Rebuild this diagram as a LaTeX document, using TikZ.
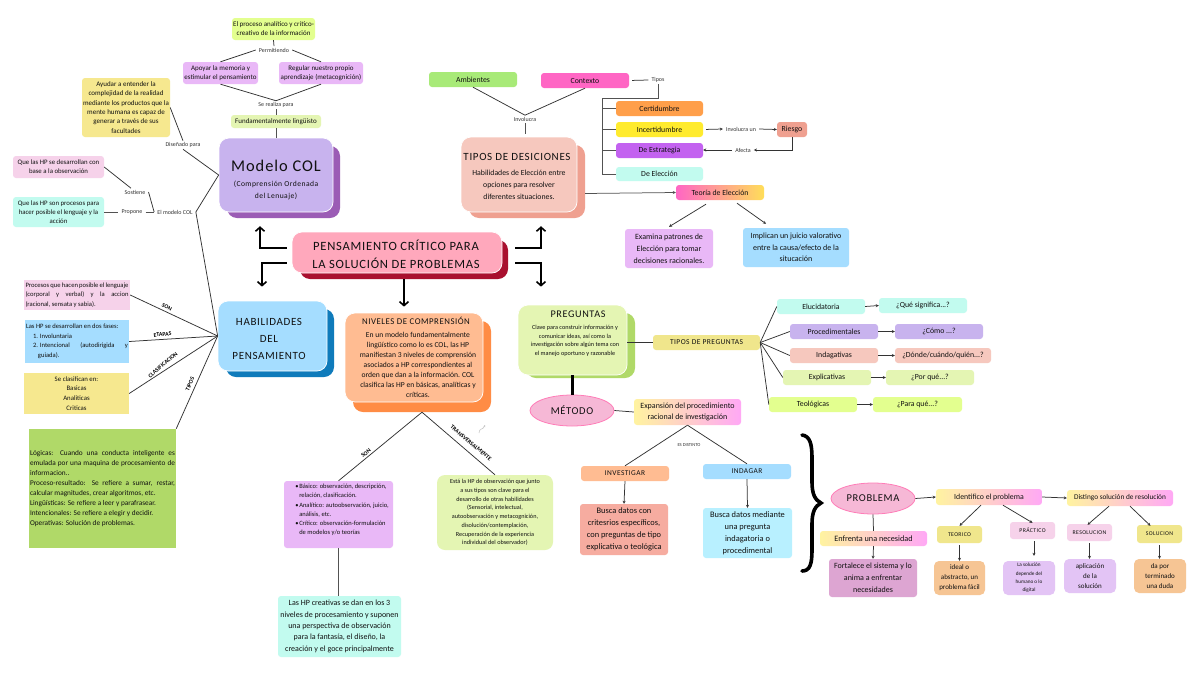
\documentclass[tikz,border=0pt]{standalone}
\usepackage{fontspec}
\setmainfont{Carlito}
\newfontfamily\spc[LetterSpace=6]{Carlito}
\usetikzlibrary{arrows.meta,shapes.geometric,calc}
\newcommand\fsz[2]{\fontsize{#1}{#2}\selectfont}
\definecolor{ink}{HTML}{111111}
\definecolor{lime}{HTML}{E3FF8F}
\definecolor{lilac}{HTML}{E9B8F7}
\definecolor{pale}{HTML}{E4F5B3}
\definecolor{butter}{HTML}{F6E88F}
\definecolor{khaki}{HTML}{F0E68C}
\definecolor{blush}{HTML}{F6D2EA}
\definecolor{mint}{HTML}{C2FBEF}
\definecolor{sky}{HTML}{A5DDFF}
\definecolor{grass}{HTML}{B0D968}
\definecolor{purp}{HTML}{C8B3EE}
\definecolor{purpd}{HTML}{9B5CB5}
\definecolor{skyd}{HTML}{0F7BBB}
\definecolor{peach}{HTML}{FFBC92}
\definecolor{peachd}{HTML}{FF8C45}
\definecolor{rose}{HTML}{F6C8BE}
\definecolor{rosed}{HTML}{EFA090}
\definecolor{pinkf}{HTML}{FFA8BC}
\definecolor{crim}{HTML}{A9102F}
\definecolor{gyel}{HTML}{FFF3A0}
\definecolor{gpin}{HTML}{FFA8F5}
\definecolor{elfill}{HTML}{F6B8D6}
\definecolor{eldraw}{HTML}{FF7DB8}
\definecolor{wire}{HTML}{333333}
\definecolor{ambc}{HTML}{A8EA78}
\definecolor{hotp}{HTML}{FF66C4}
\definecolor{orng}{HTML}{FF9F4A}
\definecolor{yelw}{HTML}{FFEB2E}
\definecolor{viol}{HTML}{C362F0}
\definecolor{gold}{HTML}{FFDE59}
\definecolor{salm}{HTML}{F6ACA0}
\definecolor{cyan1}{HTML}{B8F0FF}
\definecolor{orch}{HTML}{DDA5D2}
\definecolor{tan1}{HTML}{F6C594}
\definecolor{lav}{HTML}{E3C4F5}
\tikzset{
  boxn/.style={rectangle,rounded corners=3pt,inner sep=0pt,align=center,text=ink},
  sq/.style={rounded corners=0pt},
  gradn/.style={left color=gyel,right color=gpin},
  lab/.style={inner xsep=3pt,inner ysep=1.5pt,text=wire,font=\fsz{6}{7}},
  edgelab/.style={inner sep=0pt,text=black,font=\fsz{5.8}{6}\bfseries},
  wirel/.style={draw=wire,line width=0.75pt},
  wirea/.style={draw=wire,line width=0.75pt,-{Stealth[length=3pt,width=3pt]}},
  greyl/.style={draw=wire!85,line width=0.9pt},
  fat/.style={draw=black,line width=2.4pt,-{Straight Barb[length=4pt,width=9pt,line width=1.6pt]}},
  cardf/.style={boxn,rounded corners=10pt,draw=white,line width=0.7pt},
  cardb/.style={boxn,rounded corners=10pt},
  oval/.style={ellipse,draw=eldraw,fill=elfill,line width=0.8pt,inner sep=0pt,text=ink},
  ttl/.style={inner sep=0pt,text=ink,align=center},
}
% [options]{name}{x1}{y1}{x2}{y2}{look}{text}
\newcommand\bxn[8][]{\node[boxn,minimum width={(#5-#3)*1pt},minimum height={(#6-#4)*1pt},#7,#1] (#2) at ({(#3+#5)/2},{(#4+#6)/2}) {#8};}
% {name}{x1}{y1}{x2}{y2}{backx2}{backy2}{front}{back}
\newcommand\crd[9]{%
  \node[cardb,fill=#9,minimum width={(#6-#2-8)*1pt},minimum height={(#7-#3-8)*1pt}] (#1b) at ({(#2+8+#6)/2},{(#3+8+#7)/2}) {};
  \node[cardf,fill=#8,minimum width={(#4-#2)*1pt},minimum height={(#5-#3)*1pt}] (#1) at ({(#2+#4)/2},{(#3+#5)/2}) {};}
\begin{document}
\begin{tikzpicture}[x=1pt,y=-1pt]
\fill[white] (0,0) rectangle (1200,675);
\useasboundingbox (0,0) rectangle (1200,675);

% ---- cards
\crd{pens}{292}{232}{502}{273}{508}{279}{pinkf}{crim}
\node[ttl,font={\fsz{12.6}{18}\spc}] (penst) at (396,254) {PENSAMIENTO CRÍTICO PARA\\LA SOLUCIÓN DE PROBLEMAS};
\crd{modc}{219}{138}{333}{212}{340}{218}{purp}{purpd}
\node[ttl,font={\fsz{16.4}{20}\spc}] (modt) at (276,166) {Modelo COL};
\node[ttl,font={\fsz{7.6}{12}\spc}] (mods) at (276,190) {(Comprensión Ordenada\\del Lenuaje)};
\crd{habc}{218}{301}{327}{371}{334}{377}{sky}{skyd}
\node[ttl,font={\fsz{11}{17.3}\spc}] (habt) at (269,339) {HABILIDADES\\DEL\\PENSAMIENTO};
\crd{nivc}{345}{313}{483}{402}{491}{412}{peach}{peachd}
\node[ttl,font={\fsz{8.8}{10}\spc}] (nivt) at (416,321) {NIVELES DE COMPRENSIÓN};
\node[ttl,font={\fsz{7.6}{10}}] (nivs) at (418,365) {En un modelo fundamentalmente\\lingüístico como lo es COL, las HP\\manifiestan 3 niveles de comprensión\\asociados a HP correspondientes al\\orden que dan a la información. COL\\clasifica las HP en básicas, analíticas y\\críticas.};
\crd{tipc}{461}{137}{577}{212}{585}{218}{rose}{rosed}
\node[ttl,font={\fsz{11}{12}\spc}] (tipt) at (517,157) {TIPOS DE DESICIONES};
\node[ttl,font={\fsz{7.8}{11.7}}] (tips) at (519,185) {Habilidades de Elección entre\\opciones para resolver\\diferentes situaciones.};
\crd{prec}{518}{305}{627}{375}{635}{378}{pale}{grass}
\node[ttl,font={\fsz{10.2}{11}\spc}] (pret) at (578,314) {PREGUNTAS};
\node[ttl,font={\fsz{6.2}{8.7}}] (pres) at (575,341) {Clave para construir información y\\comunicar ideas, así como la\\investigación sobre algún tema con\\el manejo oportuno y razonable};

% ---- upper left
\bxn[font={\fsz{7}{9}}]{proc}{232}{18}{315}{40}{fill=lime}{El proceso analítico y crítico-\\creativo de la información}
\node[lab] (perm) at (274,50) {Permitiendo};
\bxn[font={\fsz{7}{9.3}}]{apo}{183}{62}{258}{84}{fill=lilac}{Apoyar la memoria y\\estimular el pensamiento}
\bxn[font={\fsz{7}{9.3}}]{reg}{279}{62}{363}{84}{fill=lilac}{Regular nuestro propio\\aprendizaje (metacognición)}
\node[lab] (srp) at (276,105) {Se realiza para};
\bxn[font={\fsz{7}{9}}]{fund}{231}{115}{321}{128}{fill=pale}{Fundamentalmente lingüisto}
\bxn[font={\fsz{7}{9.3}}]{ayu}{82}{78}{170}{137}{fill=butter}{Ayudar a entender la\\complejidad de la realidad\\mediante los productos que la\\mente humana es capaz de\\generar a través de sus\\facultades}
\node[lab] (dis) at (183,145) {Diseñado para};
\bxn[font={\fsz{6.8}{9.3}}]{que}{13}{156}{104}{178}{fill=blush}{Que las HP se desarrollan con\\base a la observación}
\node[lab] (sos) at (135,192) {Sostiene};
\bxn[font={\fsz{6.8}{9.3}}]{qua}{13}{197}{104}{227}{fill=mint}{Que las HP son procesos para\\hacer posible el lenguaje y la\\acción}
\node[lab] (prp) at (132,212) {Propone};
\node[lab] (elm) at (175,212) {El modelo COL};

% ---- left column
\bxn[sq,font={\fsz{6.6}{9.3}},align=left]{cpr}{24}{280}{130}{310}{fill=blush}{\makebox[103pt][s]{Procesos que hacen posible el lenguaje}\\\makebox[103pt][s]{(corporal y verbal) y la accion}\\(racional, sensata y sabia).}
\bxn[sq,font={\fsz{6.6}{9.5}},align=left]{cla}{25}{320}{129}{363}{fill=sky}{Las HP se desarrollan en dos fases:\\\hspace*{7pt}1. Involuntaria\\\hspace*{7pt}2. \makebox[88pt][s]{Intencional (autodirigida y}\\\hspace*{12pt}guiada).}
\bxn[sq,font={\fsz{6.8}{9.7}}]{ccl}{24}{373}{129}{414}{fill=butter}{Se clasifican en:\\Basicas\\Analiticas\\Criticas}
\bxn[sq,font={\fsz{7.3}{10}},align=left]{clo}{29}{429}{176}{548}{fill=grass}{\makebox[145pt][s]{Lógicas: Cuando una conducta inteligente es}\\\makebox[145pt][s]{emulada por una maquina de procesamiento de}\\informacion..\\\makebox[145pt][s]{Proceso-resultado: Se refiere a sumar, restar,}\\calcular magnitudes, crear algoritmos, etc.\\Lingüísticas: Se refiere a leer y parafrasear.\\Intencionales: Se refiere a elegir y decidir.\\Operativas: Solución de problemas.}
\node[edgelab,rotate=-28] (lson) at (167,307) {SON};
\node[edgelab,rotate=5] (leta) at (162.5,334.5) {ETAPAS};
\node[edgelab,rotate=40] (lcla) at (163,365) {CLASIFICACION};
\node[edgelab,rotate=66] (ltip) at (190,384) {TIPOS};

% ---- niveles children
\bxn{bas}{284}{481}{393}{548}{fill=lilac}{}
\node[ttl,align=left,font={\fsz{6.5}{9.3}}] (bast) at (342,510) {\makebox[4pt][l]{•}Básico: observación, descripción,\\\hspace*{4pt}relación, clasificación.\\\makebox[4pt][l]{•}Analítico: autoobservación, juicio,\\\hspace*{4pt}análisis, etc.\\\makebox[4pt][l]{•}Crítico: observación-formulación\\\hspace*{4pt}de modelos y/o teorías};
\bxn[font={\fsz{8}{11.3}}]{cre}{278}{596}{401}{657}{fill=mint}{Las HP creativas se dan en los 3\\niveles de procesamiento y suponen\\una perspectiva de observación\\para la fantasía, el diseño, la\\creación y el goce principalmente}
\bxn[rounded corners=8pt,font={\fsz{6.2}{8.75}}]{est}{437}{475}{553}{550}{fill=pale}{Está la HP de observación que junto\\a sus tipos son clave para el\\desarrollo de otras habilidades\\(Sensorial, intelectual,\\autoobservación y metacognición,\\disolución/contemplación,\\Recuperación de la experiencia\\individual del observador)}
\node[edgelab,rotate=40] (nson) at (366,453) {SON};
\node[edgelab,rotate=-40] (ntra) at (471,443) {TRANSVERSALMENTE};
\draw[gray!45,line width=0.6pt,-{Stealth[length=2pt,width=2pt]}] (479,433) .. controls (479,428) and (483,430) .. (485,425);

% ---- decisions
\bxn[font={\fsz{7.8}{9}}]{amb}{429}{72}{517}{87}{fill=ambc}{Ambientes}
\bxn[font={\fsz{7.8}{9}}]{ctx}{541}{73}{629}{88}{fill=hotp}{Contexto}
\node[lab] (inv) at (525,119) {Involucra};
\node[lab] (tpl) at (658,80) {Tipos};
\coordinate (trunk) at (602,98);
\bxn[font={\fsz{7.8}{9}}]{cer}{616}{101}{703}{116}{fill=orng}{Certidumbre}
\bxn[font={\fsz{7.8}{9}}]{inc}{616}{122}{703}{137}{fill=yelw}{Incertidumbre}
\bxn[font={\fsz{7.8}{9}}]{esr}{616}{143}{703}{158}{fill=viol}{De Estrategia}
\bxn[font={\fsz{7.8}{9}}]{ele}{616}{167}{703}{181}{fill=mint}{De Elección}
\node[lab] (iun) at (741,129) {Involucra un};
\node[lab] (afe) at (743,150) {Afecta};
\bxn[font={\fsz{7.8}{9}},left color=hotp,right color=gold]{teo}{676}{185}{764}{200}{}{Teoría de Elección}
\bxn[font={\fsz{7.8}{9}}]{rie}{777}{122}{807}{137}{fill=rosed}{Riesgo}
\bxn[font={\fsz{8}{12}}]{exa}{625}{229}{713}{268}{fill=lilac}{Examina patrones de\\Elección para tomar\\decisiones racionales.}
\bxn[font={\fsz{8}{11.7}}]{imp}{743}{228}{849}{267}{fill=sky}{Implican un juicio valorativo\\entre la causa/efecto de la\\situcación}

% ---- preguntas
\bxn[font={\fsz{7.5}{9}\spc}]{tpr}{653}{335}{760}{350}{fill=khaki}{TIPOS DE PREGUNTAS}
\bxn[font={\fsz{7.8}{9}}]{elu}{777}{299}{865}{314}{fill=mint}{Elucidatoria}
\bxn[font={\fsz{7.8}{9}}]{qa}{879}{298}{967}{313}{fill=mint}{¿Qué significa...?}
\bxn[font={\fsz{7.8}{9}}]{pcd}{790}{324}{878}{339}{fill=purp}{Procedimentales}
\bxn[font={\fsz{7.8}{9}}]{qb}{895}{324}{983}{339}{fill=purp}{¿Cómo ...?}
\bxn[font={\fsz{7.8}{9}}]{ina}{790}{348}{878}{363}{fill=rose}{Indagativas}
\bxn[font={\fsz{7.8}{9}}]{qc}{895}{348}{991}{363}{fill=rose}{¿Dónde/cuándo/quién...?}
\bxn[font={\fsz{7.8}{9}}]{xpl}{783}{370}{871}{385}{fill=pale}{Explicativas}
\bxn[font={\fsz{7.8}{9}}]{qd}{886}{370}{974}{385}{fill=pale}{¿Por qué...?}
\bxn[font={\fsz{7.8}{9}}]{tel}{769}{397}{857}{412}{fill=lime}{Teológicas}
\bxn[font={\fsz{7.8}{9}}]{qe}{873}{397}{962}{412}{fill=lime}{¿Para qué...?}
\node[oval,minimum width=84pt,minimum height=31pt,font={\fsz{10.5}{12}\spc}] (met) at (572,410.5) {MÉTODO};
\bxn[font={\fsz{8}{11.3}}]{xpa}{634}{399}{741}{425}{gradn}{Expansión del procedimiento\\racional de investigación}
\node[lab,font={\fsz{4.6}{5}}] (esd) at (689,445) {ES DISTINTO};
\bxn[font={\fsz{7.4}{9}\spc}]{ivs}{581}{466}{669}{481}{fill=peach}{INVESTIGAR}
\bxn[font={\fsz{7.4}{9}\spc}]{idg}{703}{464}{791}{479}{fill=sky}{INDAGAR}
\bxn[font={\fsz{8.4}{12}}]{bua}{580}{504}{668}{555}{fill=salm}{Busca datos con\\critesrios específicos,\\con preguntas de tipo\\explicativa o teológica}
\bxn[font={\fsz{8.4}{12}}]{bub}{703}{508}{792}{558}{fill=cyan1}{Busca datos mediante\\una pregunta\\indagatoria o\\procedimental}

% ---- problema
\node[oval,minimum width=84pt,minimum height=31pt,font={\fsz{10.5}{12}\spc}] (pbl) at (873,498.5) {PROBLEMA};
\bxn[font={\fsz{7.8}{9}}]{ide}{936}{489}{1042}{505}{gradn}{Identifico el problema}
\bxn[font={\fsz{7.3}{9}}]{dsg}{1067}{490}{1173}{506}{gradn}{Distingo solución de resolución}
\bxn[font={\fsz{8.2}{9}}]{enf}{820}{531}{927}{546}{gradn}{Enfrenta una necesidad}
\bxn[font={\fsz{8}{12}}]{for}{829}{559}{917}{597}{fill=orch}{Fortalece el sistema y lo\\anima a enfrentar\\necesidades}
\bxn[font={\fsz{5.8}{7}\spc}]{teg}{937}{526}{982}{543}{fill=khaki}{TEORICO}
\bxn[font={\fsz{5.8}{7}\spc}]{pra}{1010}{522}{1055}{539}{fill=blush}{PRÁCTICO}
\bxn[font={\fsz{5.8}{7}\spc}]{res}{1067}{524}{1112}{541}{fill=blush}{RESOLUCION}
\bxn[font={\fsz{5.8}{7}\spc}]{sol}{1137}{525}{1182}{543}{fill=khaki}{SOLUCION}
\bxn[rounded corners=5pt,font={\fsz{7}{10}}]{ida}{934}{561}{985}{595}{fill=tan1}{ideal o\\abstracto, un\\problema fácil}
\bxn[rounded corners=5pt,font={\fsz{5.2}{8.3}}]{lso}{1003}{561}{1055}{595}{fill=lav}{La solución\\depende del\\humano o lo\\digital}
\bxn[rounded corners=5pt,font={\fsz{7}{10.3}}]{apl}{1064}{559}{1116}{593}{fill=lav}{aplicación\\de la\\solución}
\bxn[rounded corners=5pt,font={\fsz{7}{10.3}}]{dap}{1134}{559}{1186}{593}{fill=tan1}{da por\\terminado\\una duda}

% ---- big brace
\draw[line width=3.6pt,line cap=round] (802,435) .. controls (810,436) and (812,444) .. (812,458)
  -- (812,482) .. controls (812,494) and (815,500) .. (821,503)
  .. controls (815,506) and (812,512) .. (812,524) -- (812,550)
  .. controls (812,564) and (810,571) .. (802,571);

% ---- thick central arrows
\coordinate (ta) at (260,248); \coordinate (tb) at (262,263);
\coordinate (tc) at (541,248); \coordinate (td) at (541,263);
\draw[fat,shorten >=8pt] ([xshift=-5pt,yshift=4.5pt]pens.west) -- (ta) -- (ta |- modcb.south);
\draw[fat,shorten >=14pt] ([xshift=-5pt,yshift=-10.5pt]pens.west) -- (tb) -- (tb |- habc.north);
\draw[fat,shorten >=8pt] ([xshift=7pt,yshift=11.5pt]pensb.east) -- (tc) -- (tc |- tipcb.south);
\draw[fat,shorten >=18pt] ([xshift=7pt,yshift=-3.5pt]pensb.east) -- (td) -- (td |- prec.north);
\draw[fat,shorten >=6pt] (pensb.south) -- (pensb.south |- nivc.north);

% ---- connectors, upper left
\draw[wirel] (proc.south) -- (perm.north);
\draw[wirel] (perm.west) -- (apo.north);
\draw[wirel] (perm.east) -- (reg.north);
\draw[wirel] (apo.south) -- (srp.north);
\draw[wirel] (reg.south) -- (srp.north);
\draw[greyl] (srp.south) -- (fund.north);
\draw[greyl] (fund.south) -- (modc.north);
\draw[wirel] (ayu.east) -- (dis.north);
\draw[wirel] (dis.south) -- (modc.west);
\draw[wirel] (modc.west) -- (elm.east);
\draw[wirel] (elm.east) -- (habc.west);
\draw[wirel] (que.east) -- ([xshift=-4pt]sos.north);
\draw[wirel] (sos.east) -- (elm.west);
\draw[greyl] (qua.east) -- (prp.west);
\draw[greyl] (prp.east) -- (elm.west);

% ---- habilidades
\draw[wirel] (cpr.east) -- (habc.west);
\draw[wirel] (cla.east) -- (habc.west);
\draw[wirel] (ccl.east) -- (habc.west);
\draw[wirel] (clo.north east) -- (habc.west);

% ---- niveles
\draw[wirel] (nivcb.south) -- (bas.north);
\draw[wirel] (nivcb.south) -- (est.north);
\draw[greyl] (bas.south) -- (bas.south |- cre.north);

% ---- decisiones
\draw[wirel] (amb.south) -- (inv.north);
\draw[wirel] (ctx.south) -- (inv.north);
\draw[greyl,shorten >=3pt] (inv.south) -- (inv.south |- tipc.north);
\draw[wirel,shorten <=3pt] (ctx.east) -- (tpl.west);
\draw[greyl] (tpl.south) |- (trunk) -- (trunk |- ele.west) -- (ele.west);
\draw[greyl] (trunk |- cer.west) -- (cer.west);
\draw[greyl] (trunk |- inc.west) -- (inc.west);
\draw[greyl] (trunk |- esr.west) -- (esr.west);
\draw[wirea,shorten <=3pt] (inc.east) -- (iun.west);
\draw[wirea] (iun.east) -- (rie.west);
\draw[wirea] (rie.south) |- (afe.east);
\draw[wirea] (afe.west) -- (afe.west -| esr.east);
\draw[wirea,draw=wire!85] ([yshift=-12pt]tipcb.east) -- (teo.west);
\draw[wirea] ([xshift=-14pt,yshift=-4pt]teo.south) -- ([yshift=2pt]exa.north);
\draw[wirea] ([xshift=17pt,yshift=-3pt]teo.south) -- ([xshift=-30pt,yshift=4pt]imp.north);

% ---- preguntas
\draw[wirel] (tpr.west -| prec.east) -- (tpr.west);
\draw[wirel] (tpr.east) -- (elu.west);
\draw[wirel] (tpr.east) -- (pcd.west);
\draw[wirel] (tpr.east) -- (ina.west);
\draw[wirel] (tpr.east) -- (xpl.west);
\draw[wirel] (tpr.east) -- (tel.west);
\draw[wirea] (elu.east) -- (qa.west);
\draw[wirea] (pcd.east) -- (qb.west);
\draw[wirea] (ina.east) -- (qc.west);
\draw[wirea] (xpl.east) -- (qd.west);
\draw[wirea] (tel.east) -- (qe.west);
\draw[line width=3pt] (met.north |- prec.south) -- (met.north);
\draw[wirel] (met.east) -- (xpa.west);
\draw[wirel] (xpa.south) -- (ivs.north);
\draw[wirel] (xpa.south) -- (idg.north);
\draw[wirea] (ivs.south) -- (bua.north);
\draw[wirea] (idg.south) -- (bub.north);

% ---- problema
\draw[wirea] (pbl.east) -- (ide.west);
\draw[wirea] (ide.east) -- (dsg.west);
\draw[wirel] (pbl.south) -- (enf.north);
\draw[wirea] (enf.south) -- (for.north);
\draw[wirea] ([xshift=-8pt]ide.south) -- (teg.north);
\draw[wirea] ([xshift=14pt]ide.south) -- ([yshift=-1pt]pra.north);
\draw[wirea] ([xshift=-11pt]dsg.south) -- ([xshift=-2pt,yshift=-1pt]res.north);
\draw[wirea] ([xshift=10pt]dsg.south) -- ([xshift=-9pt,yshift=-1pt]sol.north);
\draw[wirea,shorten <=2pt] (teg.south) -- (teg.south |- ida.north);
\draw[wirea,shorten <=2pt,shorten >=5pt] ([xshift=1.5pt]pra.south) -- ([xshift=1.5pt]pra.south |- lso.north);
\draw[wirea,shorten <=2pt] (res.south) -- (res.south |- apl.north);
\draw[wirea,shorten <=2pt] (sol.south) -- (sol.south |- dap.north);
\end{tikzpicture}
\end{document}
